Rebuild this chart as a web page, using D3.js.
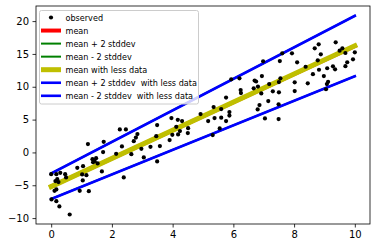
<!DOCTYPE html>
<html>
<head>
<meta charset="utf-8">
<script src="https://cdn.jsdelivr.net/npm/d3@7"></script>
<style>
  html, body { margin: 0; padding: 0; background: #fff; }
  svg { display: block; font-family: "DejaVu Sans", sans-serif; }
  text { white-space: pre; }
</style>
</head>
<body>
<svg id="chart" width="377" height="248"></svg>
<script>
// ---- data ----
const obsX = [0.00,0.17,0.30,0.46,0.20,0.24,0.14,0.11,0.17,0.01,0.17,0.27,0.61,0.49,0.86,1.05,1.02,1.04,0.94,1.24,1.21,1.16,
  1.36,1.43,1.48,1.38,1.53,1.67,1.73,1.71,2.14,2.26,2.46,2.33,2.39,2.64,2.72,2.79,2.84,3.05,3.27,3.46,3.49,3.49,3.58,3.90,
  3.99,4.18,4.24,4.12,4.31,4.50,4.51,3.96,4.17,4.92,2.97,
  5.17,5.38,5.35,5.60,5.60,5.76,5.87,5.87,5.76,5.55,5.32,5.93,6.20,6.24,6.25,6.70,6.75,6.94,6.81,6.92,6.67,7.18,7.30,7.50,
  7.15,6.86,6.80,7.04,7.49,6.98,7.49,
  7.53,7.61,7.93,8.10,8.81,8.68,8.88,9.37,9.59,9.50,9.69,10.00,9.75,9.94,9.69,8.78,8.82,9.09,9.28,9.35,8.62,8.98,9.12,9.08,
  9.05,8.45,8.02,8.02,7.55,7.50,8.38];
const obsY = [-3.31,-3.31,-3.11,-3.31,-4.07,-4.52,-4.37,-5.85,-5.64,-7.16,-7.42,-8.23,-9.45,-3.81,-2.35,-2.09,-3.35,-4.27,-5.85,-5.90,1.27,-3.46,
  -1.02,-1.33,-0.87,-1.48,-1.68,-2.90,1.62,0.05,-0.21,3.51,3.51,0.91,-3.81,-0.26,1.72,2.26,2.79,-0.76,0.85,2.48,-1.37,4.16,0.96,1.88,
  2.68,2.74,3.25,3.90,4.77,2.94,3.70,5.23,4.97,5.84,0.55,
  4.77,5.23,6.91,6.60,5.30,4.77,6.14,5.61,8.35,3.66,2.64,11.13,11.28,9.50,9.04,10.95,10.80,11.63,10.03,8.99,9.76,10.41,9.30,9.15,
  7.82,7.21,6.55,5.18,5.08,13.87,7.32,
  13.92,15.09,15.09,13.72,16.46,15.85,14.94,16.77,15.85,15.49,15.14,15.24,13.73,14.18,13.13,14.02,12.59,12.82,13.11,12.65,11.91,11.63,10.75,10.41,
  9.62,10.52,10.67,9.34,11.28,10.72,13.05];

const lineX = [0, 10];
const meanY = [-5.2, 16.2];
const meanPlusY = [-3.2, 20.8];
const meanMinusY = [-7.1, 11.6];
const meanLessY = [-5.2, 16.25];
const meanPlusLessY = [-3.2, 20.8];
const meanMinusLessY = [-7.1, 11.6];

const xTicks = [0, 2, 4, 6, 8, 10];
const yTicks = [-10, -5, 0, 5, 10, 15, 20];

const legendLabels = ["observed", "mean", "mean + 2 stddev", "mean - 2 stddev", "mean with less data",
  "mean + 2 stddev  with less data", "mean - 2 stddev  with less data"];

// ---- drawing ----
const svg = d3.select("#chart");
const L = 36, R = 370, T = 6, B = 224;
const x = d3.scaleLinear().domain([-0.5, 10.5]).range([L, R]);
const y = d3.scaleLinear().domain([-10.9, 22.3]).range([B, T]);

const series = [
  { ys: meanY, color: "#ff0000", w: 4 },
  { ys: meanPlusY, color: "#008000", w: 2 },
  { ys: meanMinusY, color: "#008000", w: 2 },
  { ys: meanLessY, color: "#bfbf00", w: 5 },
  { ys: meanPlusLessY, color: "#0000ff", w: 2.6 },
  { ys: meanMinusLessY, color: "#0000ff", w: 2.6 }
];
const line = d3.line().x(d => x(d[0])).y(d => y(d[1]));
const plot = svg.append("g");
series.forEach(s => {
  plot.append("path")
    .attr("d", line(lineX.map((v, i) => [v, s.ys[i]])))
    .attr("fill", "none").attr("stroke", s.color).attr("stroke-width", s.w)
    .attr("stroke-linecap", "square");
});

plot.selectAll("circle.obs").data(obsX.map((v, i) => [v, obsY[i]])).enter()
  .append("circle").attr("class", "obs")
  .attr("cx", d => x(d[0])).attr("cy", d => y(d[1])).attr("r", 2.1).attr("fill", "#000");

// axes
const xAxis = svg.append("g").attr("transform", `translate(0,${B})`)
  .call(d3.axisBottom(x).tickValues(xTicks).tickSize(3.5).tickPadding(3.5).tickFormat(d3.format("d")));
const yAxis = svg.append("g").attr("transform", `translate(${L},0)`)
  .call(d3.axisLeft(y).tickValues(yTicks).tickSize(3.5).tickPadding(3.5).tickFormat(d3.format("d")));
[xAxis, yAxis].forEach(a => {
  a.select(".domain").remove();
  a.selectAll("line").attr("stroke", "#000").attr("stroke-width", 0.8);
  a.selectAll("text").attr("font-size", 10).attr("font-family", "DejaVu Sans").attr("fill", "#000");
});
// spines
svg.append("rect").attr("x", L).attr("y", T).attr("width", R - L).attr("height", B - T)
  .attr("fill", "none").attr("stroke", "#000").attr("stroke-width", 0.8);

// legend
const lg = svg.append("g");
lg.append("rect").attr("x", 39.5).attr("y", 10.5).attr("width", 159).attr("height", 93.5)
  .attr("rx", 2).attr("ry", 2)
  .attr("fill", "#fff").attr("fill-opacity", 0.8).attr("stroke", "#cccccc").attr("stroke-width", 1);
const rowY = i => 17.5 + i * 13.05;
legendLabels.forEach((lab, i) => {
  const yy = rowY(i);
  if (i === 0) {
    lg.append("circle").attr("cx", 51).attr("cy", yy).attr("r", 2.1).attr("fill", "#000");
  } else {
    const s = series[i - 1];
    lg.append("line").attr("x1", 41).attr("x2", 61).attr("y1", yy).attr("y2", yy)
      .attr("stroke", s.color).attr("stroke-width", s.w);
  }
  lg.append("text").attr("x", 65.5).attr("y", yy + 3).attr("font-size", 8.1)
    .attr("font-family", "DejaVu Sans").attr("fill", "#000")
    .attr("xml:space", "preserve").text(lab);
});
</script>
</body>
</html>
